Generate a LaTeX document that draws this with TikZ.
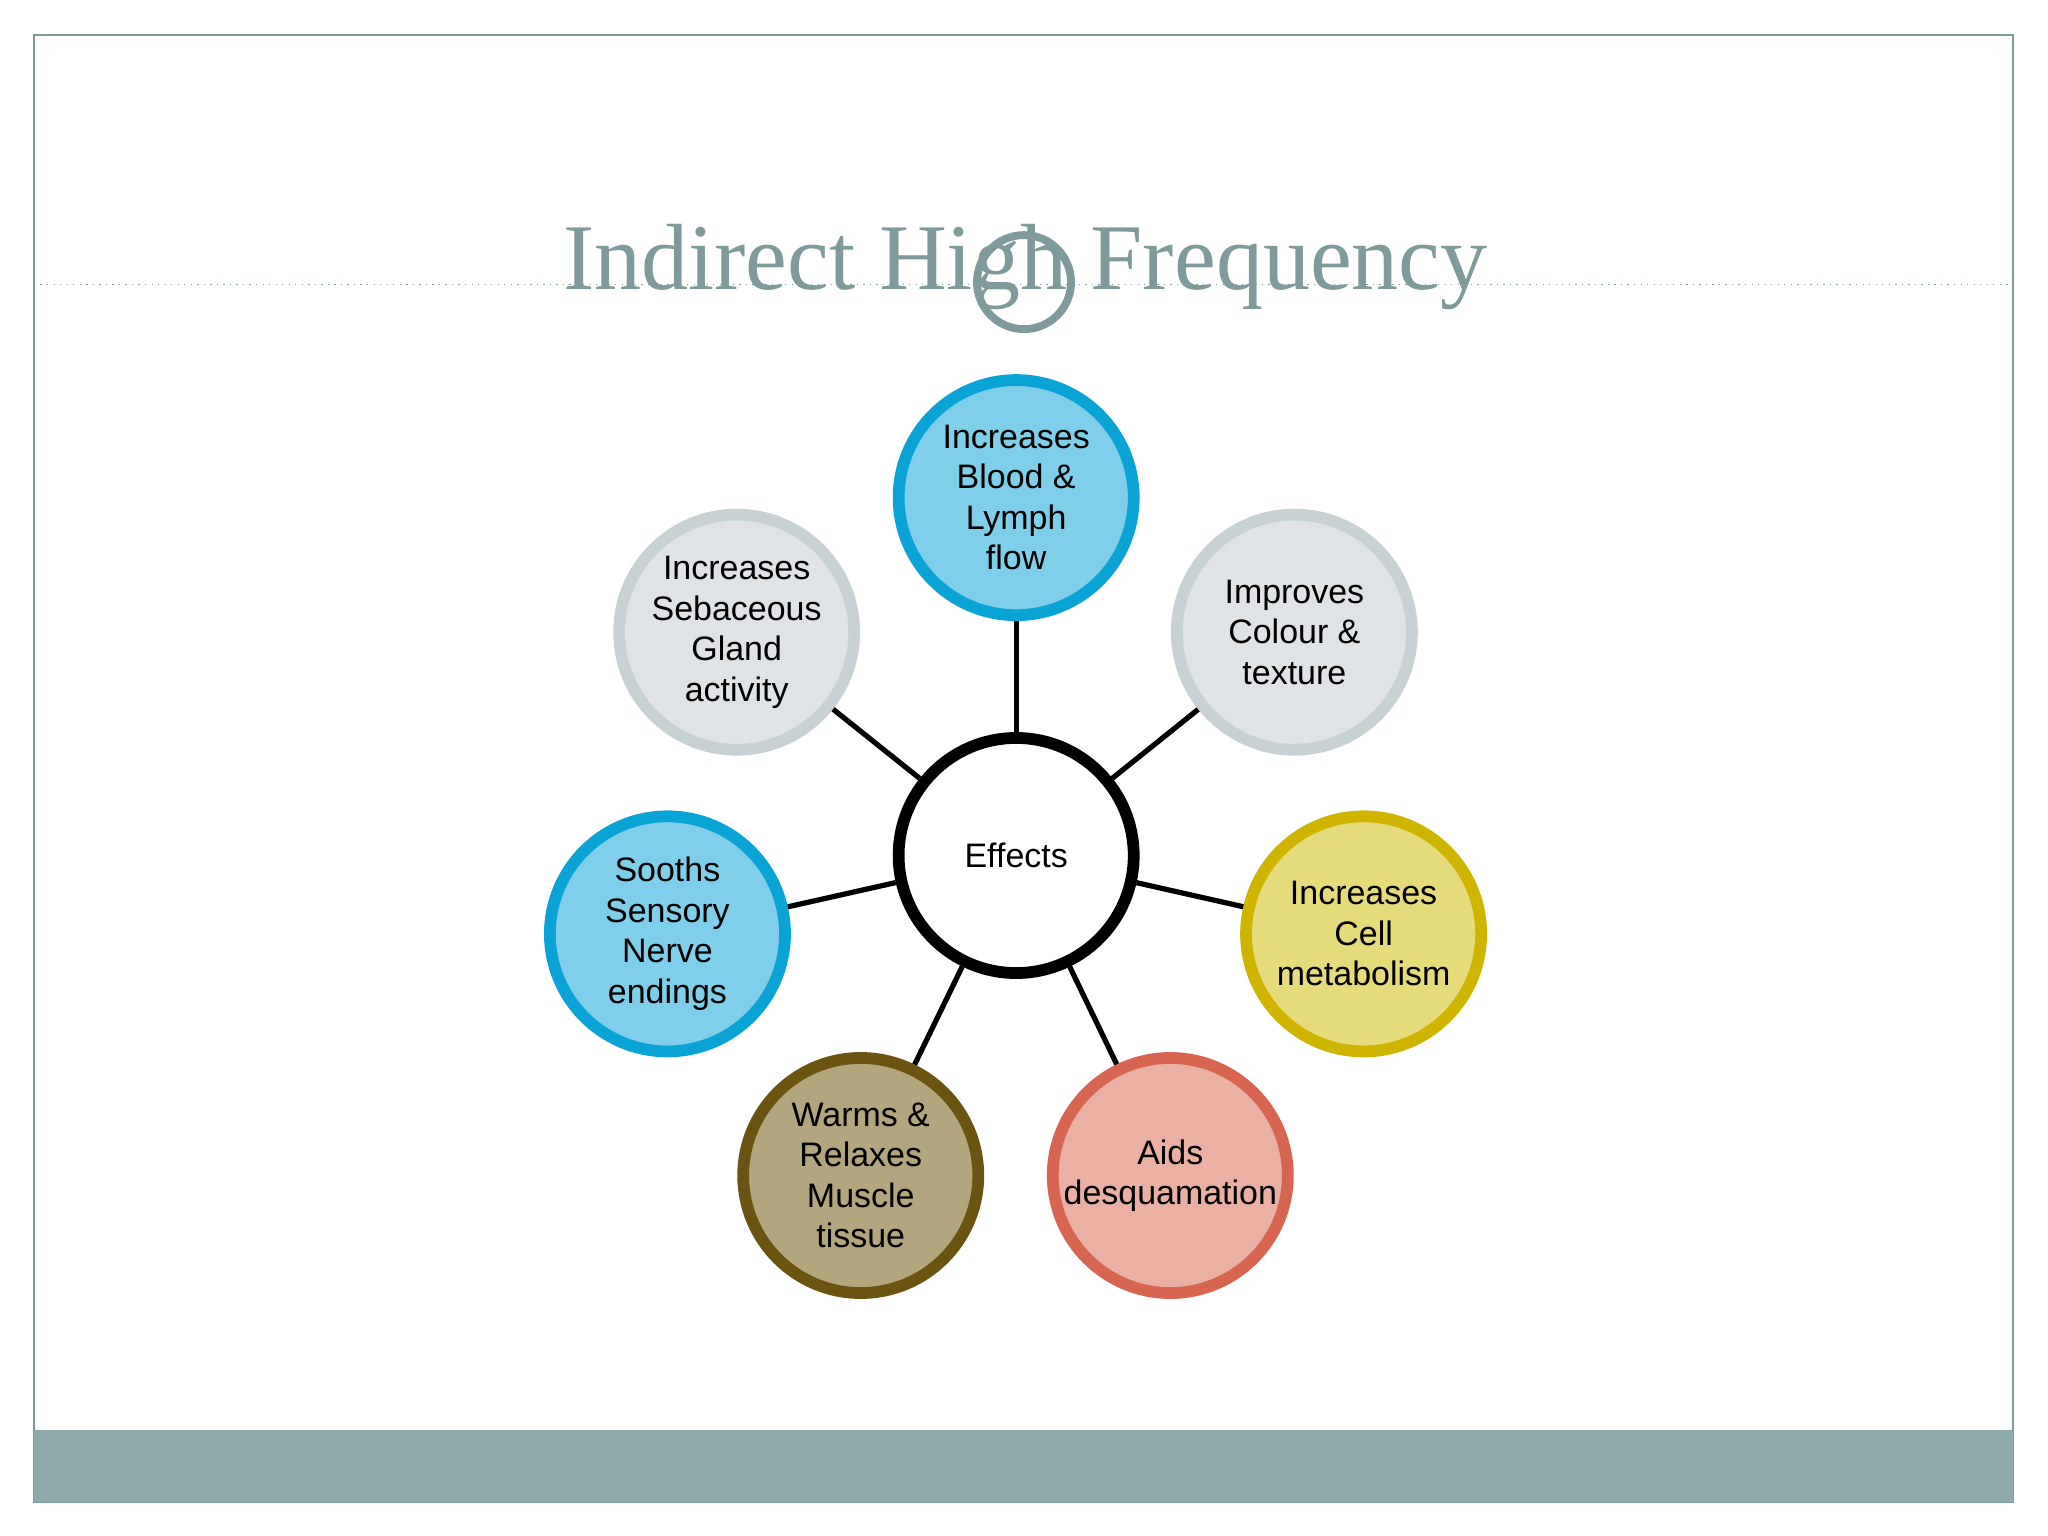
\documentclass[tikz,border=0pt]{standalone}
\usepackage{fontspec}
\setmainfont{Liberation Sans}
\newfontfamily\titlefont{Liberation Serif}
\definecolor{teal1}{HTML}{7F9A9A}
\definecolor{barc}{HTML}{8EABAB}
\definecolor{bluef}{HTML}{7FCFEA}\definecolor{blueb}{HTML}{0AA3D5}
\definecolor{grayf}{HTML}{DFE3E6}\definecolor{grayb}{HTML}{C8D2D5}
\definecolor{yelf}{HTML}{E6DB7A}\definecolor{yelb}{HTML}{CFB400}
\definecolor{brnf}{HTML}{B3A57E}\definecolor{brnb}{HTML}{6B5412}
\definecolor{redf}{HTML}{E9B0A3}\definecolor{redb}{HTML}{D86550}
\begin{document}
\begin{tikzpicture}[x=0.5pt,y=-0.5pt,
  bub/.style={circle,minimum size=90pt,inner sep=0pt,line width=4.5pt,align=center,font=\fontsize{13}{15.5}\selectfont},
  blueb/.style={bub,draw=blueb,fill=bluef},
  grayb/.style={bub,draw=grayb,fill=grayf},
  conn/.style={line width=2pt,black}]
\useasboundingbox (0,0) rectangle (1568,1176);
\fill[white] (0,0) rectangle (1568,1176);
\draw[teal1,line width=0.6pt] (26,27) rectangle (1541,1150);
\fill[barc] (26,1095) rectangle (1541,1150);
\draw[teal1,dotted,line width=0.5pt] (26,218) -- (1541,218);
\draw[teal1,line width=3pt] (784,216) circle (36);
\node[text=teal1,font=\titlefont\fontsize{36}{40}\selectfont,anchor=base] (title) at (785,222) {Indirect High Frequency};
\node[bub,draw=black,fill=white] (c) at (778,655) {Effects};
\node[blueb] (n1) at (778,381) {Increases\\Blood \&\\Lymph\\flow};
\node[grayb] (n2) at (564,484) {Increases\\Sebaceous\\Gland\\activity};
\node[grayb] (n3) at (991,484) {Improves\\Colour \&\\texture};
\node[blueb] (n4) at (511,715) {Sooths\\Sensory\\Nerve\\endings};
\node[bub,draw=yelb,fill=yelf] (n5) at (1044,715) {Increases\\Cell\\metabolism};
\node[bub,draw=brnb,fill=brnf] (n6) at (659,900) {Warms \&\\Relaxes\\Muscle\\tissue};
\node[bub,draw=redb,fill=redf] (n7) at (896,900) {Aids\\desquamation};
\foreach \n in {n1,n2,n3,n4,n5,n6,n7} \draw[conn] (c) -- (\n);
\end{tikzpicture}
\end{document}
